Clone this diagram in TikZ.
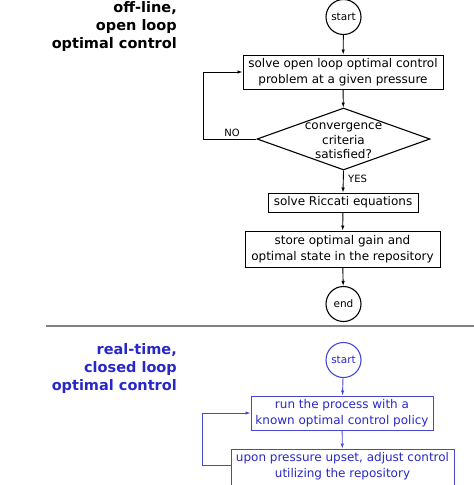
\documentclass[tikz,border=0pt]{standalone}
\usepackage{fontspec}
\setmainfont{DejaVu Sans}
\usetikzlibrary{shapes.geometric,arrows.meta}
\definecolor{blueT}{RGB}{40,40,200}
\definecolor{blueL}{RGB}{70,70,215}
\definecolor{sepgray}{RGB}{130,130,130}
\tikzset{
  flowbox/.style={draw,rectangle,line width=0.95pt,inner sep=0pt,align=center,
    font=\fontsize{12}{15.5}\selectfont},
  termcircle/.style={draw,circle,line width=1.1pt,inner sep=0pt,minimum size=35pt,
    font=\fontsize{10.5}{12}\selectfont},
  decisionshape/.style={draw,diamond,line width=1.1pt,inner sep=0pt,
    minimum width=173pt,minimum height=62pt},
  flowarrow/.style={line width=0.9pt,-{Latex[length=5pt,width=3.5pt]}},
  branchlabel/.style={font=\fontsize{10}{12}\selectfont,inner sep=0pt},
  titletext/.style={align=right,inner sep=0pt,anchor=east,
    font=\fontsize{14.5}{18}\selectfont\bfseries},
}
\begin{document}
\begin{tikzpicture}[x=1pt,y=-1pt]
\useasboundingbox (0,0) rectangle (474,485);
\clip (0,0) rectangle (474,485);
% titles
\node[titletext] (t1) at (177,26) {off-line,\\open loop\\optimal control};
% top flowchart
\node[termcircle] (s1) at (343.5,17) {start};
\node[flowbox,minimum width=200pt,minimum height=34pt] (b1) at (343,72)
  {solve open loop optimal control\\problem at a given pressure};
\node[decisionshape] (d1) at (343.5,139) {};
\node[align=center,inner sep=0pt,font=\fontsize{12}{14.5}\selectfont] (d1t) at (343.5,141)
  {convergence\\criteria\\satisfied?};
\node[flowbox,minimum width=150pt,minimum height=19pt] (b2) at (343,202.5)
  {solve Riccati equations};
\node[flowbox,minimum width=195pt,minimum height=36pt] (b3) at (342.5,249)
  {store optimal gain and\\optimal state in the repository};
\node[termcircle] (e1) at (343.5,304) {end};
\coordinate (c1) at (203,139);
\coordinate (c2) at (203,72);
\draw[flowarrow] (s1) -- (b1);
\draw[flowarrow] (b1) -- (d1);
\draw[flowarrow] (d1.south) -- (b2.north);
\draw[flowarrow] (b2) -- (b3);
\draw[flowarrow] (b3) -- (e1);
\draw[flowarrow] (d1.west) -- (c1) -- (c2) -- (b1.west);
\node[branchlabel] (no) at (232,132.5) {NO};
\node[branchlabel,anchor=west] (yes) at (348,179) {YES};
% separator
\coordinate (sepL) at (46,326);
\coordinate (sepR) at (474,326);
\draw[sepgray,line width=1.2pt] (sepL) -- (sepR);
% bottom flowchart
\node[titletext,text=blueT] (t2) at (177,368) {real-time,\\closed loop\\optimal control};
\node[termcircle,draw=blueL,text=blueT] (s2) at (343.5,360) {start};
\node[flowbox,draw=blueL,text=blueT,minimum width=182pt,minimum height=34pt] (r1) at (342,413)
  {run the process with a\\known optimal control policy};
\node[flowbox,draw=blueL,text=blueT,minimum width=223pt,minimum height=38pt] (u1) at (342.5,468)
  {};
\node[align=center,inner sep=0pt,text=blueT,font=\fontsize{12}{15.5}\selectfont] (u1t) at (342.5,466)
  {upon pressure upset, adjust control\\utilizing the repository};
\coordinate (c3) at (202,465);
\coordinate (c4) at (202,413);
\draw[flowarrow,blueL] (s2) -- (r1);
\draw[flowarrow,blueL] (r1) -- (u1);
\draw[flowarrow,blueL] (u1.west |- c3) -- (c3) -- (c4) -- (r1.west);
\end{tikzpicture}
\end{document}
